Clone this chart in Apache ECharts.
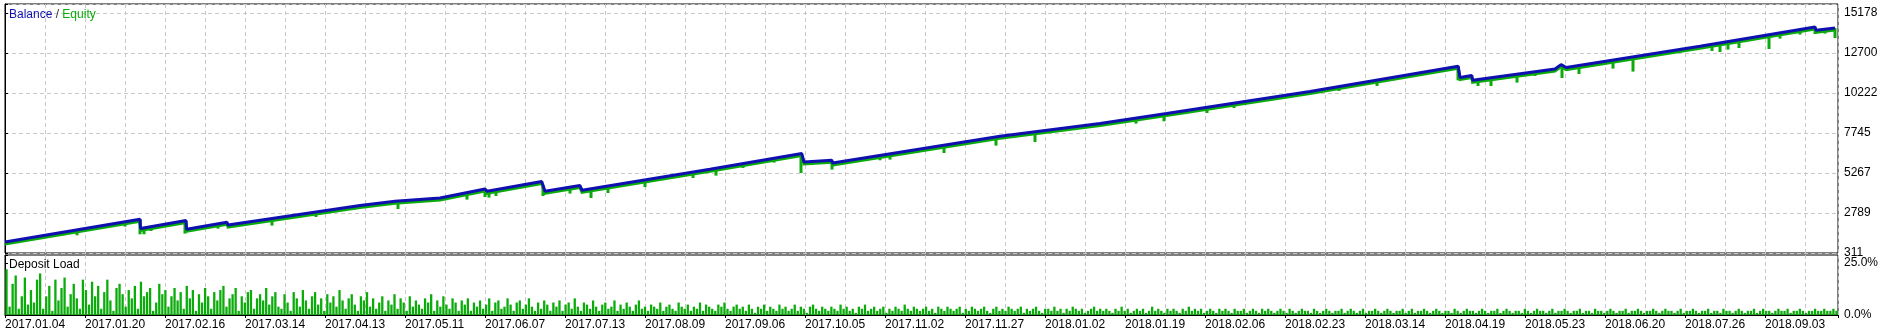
<!DOCTYPE html>
<html><head><meta charset="utf-8">
<script src="https://cdn.jsdelivr.net/npm/echarts@6/dist/echarts.min.js"></script>
<style>html,body{margin:0;padding:0;background:#fff}#c{width:1893px;height:335px}</style>
</head><body><div id="c"></div>
<script>
const dateLabels = ['2017.01.04','2017.01.20','2017.02.16','2017.03.14','2017.04.13','2017.05.11','2017.06.07','2017.07.13','2017.08.09','2017.09.06','2017.10.05','2017.11.02','2017.11.27','2018.01.02','2018.01.19','2018.02.06','2018.02.23','2018.03.14','2018.04.19','2018.05.23','2018.06.20','2018.07.26','2018.09.03'];
const yTickLabels = ['311','2789','5267','7745','10222','12700','15178'];
const loadTickLabels = {0: '0.0%', 25: '25.0%'};

// balance curve: position along the time axis (one unit = half a date-label step) and value
const balancePos = [0,3.375,3.39,4.525,4.54,5.55,5.575,8.875,9.75,10.875,12.0,12.05,13.42,13.5,14.375,14.425,17.625,19.92,19.975,20.67,20.69,24.875,27.375,29.04,32.625,36.33,36.375,36.67,36.69,38.75,38.9,39.03,42.375,45.25,45.275,45.75];
const balanceValue = [992,2399,1823,2318,1779,2213,2046,3247,3514,3718,4276,4133,4734,4133,4486,4195,5496,6469,5948,6054,5887,7541,8327,8947,10310,11877,11177,11301,11010,11710,11982,11797,13116,14312,14107,14250];

// equity drawdown spikes: position and lowest equity value
const spikePos = [0.625,1.45,1.8,3.0,3.375,3.475,3.65,4.5,5.325,6.675,7.775,8.75,9.825,11.55,12.0,12.1,12.275,13.45,14.125,14.65,15.075,16.0,17.2,17.775,18.45,19.225,19.9,20.675,21.875,22.125,23.475,24.775,25.75,28.275,28.975,30.05,30.725,33.35,34.3,36.325,36.825,37.15,37.8,38.25,38.925,39.35,40.2,40.7,42.675,42.875,43.075,43.35,44.1,44.375,44.875,45.25,45.5,45.75];
const spikeLow = [1054,1408,1408,1947,1469,1469,1674,1513,1823,2008,2541,3018,3037,3619,3780,3743,3842,3842,3991,3718,4028,4400,4957,5106,5577,5911,5267,5478,6054,6097,6506,6964,7187,8327,8470,8984,9294,10347,10657,11010,10657,10657,10867,11276,11152,11400,11735,11549,12825,12762,12911,13011,12949,13593,13841,13878,13903,13630];

// deposit load, percent
const depositLoad = [
22,4,15,19,3,9,18,5,12,6,17,20,3,9,14,2,17,7,13,18,4,10,15,8,3,17,12,5,16,9,
14,3,11,17,7,2,13,15,10,4,12,8,14,3,16,9,11,13,2,6,15,10,12,4,9,13,7,11,3,14,
8,12,2,10,6,13,9,3,11,7,12,14,4,8,10,13,2,9,6,11,12,3,8,10,7,13,5,9,11,4,
3,10,6,2,11,8,4,12,7,3,9,11,5,8,2,10,6,9,4,12,7,3,8,10,5,2,9,7,11,4,
8,3,6,9,2,7,5,10,3,8,6,2,9,4,7,5,3,8,6,10,2,7,4,9,5,3,8,6,2,7,
5,8,2,6,4,7,3,5,8,2,6,7,3,4,8,5,2,6,7,3,5,8,4,2,6,3,7,5,2,6,
4,7,2,5,6,3,8,4,2,6,5,3,7,4,2,5,6,3,4,7,2,5,3,6,4,2,5,7,3,4,
2,5,4,3,6,2,4,5,3,2,6,4,3,5,2,4,3,6,2,5,4,3,2,5,4,6,3,2,4,5,
3,4,2,5,3,1,4,3,5,2,4,3,2,5,3,4,2,3,5,2,4,3,1,4,5,3,2,4,3,2,
4,3,2,5,3,4,2,3,1,4,3,5,2,3,4,2,3,4,1,3,2,4,3,2,5,3,2,4,3,2,
3,4,2,3,1,4,3,2,4,3,2,3,4,1,3,2,4,3,2,3,4,2,1,3,4,2,3,2,4,3,
2,3,4,1,3,2,3,4,2,1,3,3,2,4,2,3,1,3,2,4,3,2,3,1,2,3,4,2,3,2,
3,2,1,3,2,4,2,3,1,2,3,2,3,1,2,4,2,3,2,1,3,2,3,2,1,3,2,4,2,3,
2,3,1,2,3,2,1,3,2,3,2,1,3,2,2,3,1,2,3,2,1,3,2,3,2,1,2,3,2,1,
3,2,1,2,3,2,2,1,3,2,1,2,3,2,1,2,2,3,1,2,3,2,1,2,3,1,2,2,3,2,
1,2,3,2,1,2,2,3,1,2,3,1,2,2,3,2,1,2,3,2,1,2,2,1,3,2,1,2,3,2,
2,1,2,3,2,1,2,2,3,1,2,3,2,1,2,2,1,3,2,1,2,3,2,2,1,2,3,1,2,2,
3,2,1,2,2,3,1,2,2,1,3,2,2,1,2,3,2,1,2,2,3,1,2,2,3,2,1,2,2,3,
2,1,2,3,2,2,1,2,3,1,2,2,3,2,1,2,2,3,1,2,2,1,3,2,2,1,2,3,2,1,
2,2,3,1,2,3,2,2,1,2,3,2,2,3,1,2,2,3,2,1,2,2,3,2,2,3,2,2,3,2
];

const BLUE = '#1010b0', GREEN = '#0aab0a', GRIDC = '#c8c8c8';
const FONT = 'Liberation Sans';
const Y_MIN = 311, Y_STEP = 2477.83, Y_MAX = 15735;
const X_MAX = 45.825;

function balanceAt(p) {
  for (let i = 0; i < balancePos.length - 1; i++) {
    if (p >= balancePos[i] && p <= balancePos[i + 1]) {
      const t = (p - balancePos[i]) / (balancePos[i + 1] - balancePos[i] || 1);
      return balanceValue[i] + t * (balanceValue[i + 1] - balanceValue[i]);
    }
  }
  return balanceValue[balanceValue.length - 1];
}

const chart = echarts.init(document.getElementById('c'), null, {renderer: 'canvas'});
const dash = {color: GRIDC, type: [4, 3], width: 1};
chart.setOption({
  animation: false,
  backgroundColor: '#fff',
  grid: [
    {left: 5, top: 4, width: 1833, height: 249, show: true, borderColor: '#000', borderWidth: 1, containLabel: false},
    {left: 5, top: 255, width: 1833, height: 60, show: true, borderColor: '#000', borderWidth: 1, containLabel: false}
  ],
  xAxis: [
    {gridIndex: 0, type: 'value', min: 0, max: X_MAX, interval: 1, axisLine: {show: false}, axisTick: {show: false}, axisLabel: {show: false}, splitLine: {show: true, lineStyle: dash}},
    {gridIndex: 1, type: 'value', position: 'top', min: 0, max: X_MAX, interval: 1, axisLine: {show: false}, axisTick: {show: false}, axisLabel: {show: false}, splitLine: {show: true, lineStyle: dash}},
    {gridIndex: 1, type: 'value', position: 'bottom', min: 0, max: X_MAX, interval: 2,
      axisLine: {show: true, lineStyle: {color: '#000'}}, axisTick: {show: true, length: 3, lineStyle: {color: '#000'}},
      splitLine: {show: false}, showMaxLabel: false,
      axisLabel: {show: true, margin: 4, align: 'left', color: '#000', fontFamily: FONT, fontSize: 12,
        formatter: v => { const k = Math.round(v); return (Math.abs(v - k) < 1e-6 && k % 2 === 0 && dateLabels[k / 2]) ? dateLabels[k / 2] : ''; }}},
    {gridIndex: 1, type: 'category', show: false, position: 'top', data: depositLoad.map((_, i) => i), boundaryGap: true}
  ],
  yAxis: [
    {gridIndex: 0, type: 'value', position: 'right', min: Y_MIN, max: Y_MAX, interval: Y_STEP,
      axisLine: {show: true, lineStyle: {color: '#000'}}, axisTick: {show: true, length: 3, lineStyle: {color: '#000'}},
      splitLine: {show: true, lineStyle: dash}, showMaxLabel: false,
      axisLabel: {show: true, margin: 6, color: '#000', fontFamily: FONT, fontSize: 12,
        formatter: v => { const k = Math.round((v - Y_MIN) / Y_STEP); return (Math.abs(v - (Y_MIN + k * Y_STEP)) < 1 && yTickLabels[k]) ? yTickLabels[k] : ''; }}},
    {gridIndex: 1, type: 'value', position: 'right', min: 0, max: 28.85, interval: 25,
      axisLine: {show: true, lineStyle: {color: '#000'}}, axisTick: {show: true, length: 3, lineStyle: {color: '#000'}},
      splitLine: {show: false}, showMaxLabel: false,
      axisLabel: {show: true, margin: 6, color: '#000', fontFamily: FONT, fontSize: 12,
        formatter: v => loadTickLabels[v] || ''}}
  ],
  series: [
    {name: 'Equity', type: 'custom', xAxisIndex: 0, yAxisIndex: 0, z: 2, clip: true,
      data: [[0, balanceValue[0]]],
      renderItem: (params, api) => {
        const pts = balancePos.map((p, i) => { const c = api.coord([p, balanceValue[i]]); return [c[0], c[1] + 2]; });
        return {type: 'polyline', shape: {points: pts}, style: {stroke: GREEN, lineWidth: 3, fill: null}};
      }},
    {name: 'Equity spikes', type: 'custom', xAxisIndex: 0, yAxisIndex: 0, z: 2, clip: true,
      data: spikePos.map((p, i) => [p, spikeLow[i]]),
      renderItem: (params, api) => {
        const p = api.value(0), low = api.value(1);
        const top = api.coord([p, balanceAt(p)]);
        const bot = api.coord([p, low]);
        return {type: 'rect', shape: {x: top[0] - 1.5, y: top[1], width: 3, height: bot[1] - top[1]}, style: {fill: GREEN}};
      }},
    {name: 'Balance', type: 'line', xAxisIndex: 0, yAxisIndex: 0, z: 3, symbol: 'none',
      data: balancePos.map((p, i) => [p, balanceValue[i]]),
      lineStyle: {color: BLUE, width: 3}},
    {name: 'Deposit Load', type: 'bar', xAxisIndex: 3, yAxisIndex: 1, data: depositLoad,
      barCategoryGap: '25%', itemStyle: {color: GREEN}}
  ],
  graphic: [
    {type: 'text', left: 9, top: 9, z: 10, style: {
      text: '{b|Balance} {s|/} {e|Equity}', fontFamily: FONT, fontSize: 12,
      rich: {b: {fill: BLUE, fontFamily: FONT, fontSize: 12}, s: {fill: '#333', fontFamily: FONT, fontSize: 12}, e: {fill: GREEN, fontFamily: FONT, fontSize: 12}}}},
    {type: 'text', left: 9, top: 259, z: 10, style: {text: 'Deposit Load', fill: '#000', fontFamily: FONT, fontSize: 12}}
  ]
});
</script>
</body></html>
